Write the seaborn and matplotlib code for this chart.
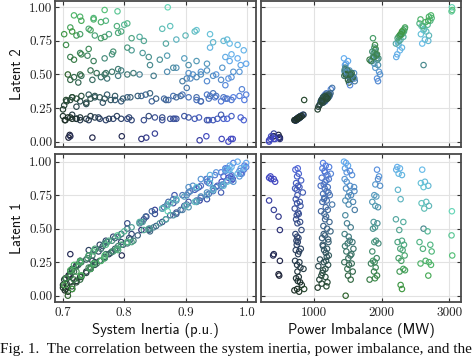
import numpy as np
import pandas as pd
import matplotlib
matplotlib.use("Agg")
import matplotlib.pyplot as plt
import seaborn as sns

# ---- data: one entry per sample (grouped by power-imbalance level) ----
inertia = [
    # ~400 MW
    0.709, 0.711, 0.712, 0.748, 0.796, 0.828, 0.836, 0.850, 0.923, 0.934, 0.959, 0.970, 0.974, 0.977,
    # ~750 MW
    0.968, 0.995, 0.990, 0.962, 0.975, 0.938, 0.952, 0.922, 0.945, 0.915, 0.958, 0.882, 0.935, 0.905,
    0.880, 0.898, 0.862, 0.885, 0.850, 0.875, 0.832, 0.862, 0.805, 0.840, 0.812, 0.782, 0.808, 0.770,
    0.795, 0.760, 0.788, 0.742, 0.758, 0.775, 0.728, 0.752, 0.722, 0.745, 0.715, 0.738, 0.728, 0.704,
    0.722, 0.712, 0.700, 0.715, 0.703, 0.708, 0.705,
    # ~1150 MW
    0.978, 0.996, 0.999, 0.965, 0.988, 0.958, 0.992, 0.948, 0.975, 0.940, 0.968, 0.935, 0.962, 0.925,
    0.950, 0.918, 0.945, 0.905, 0.938, 0.895, 0.925, 0.880, 0.918, 0.872, 0.902, 0.865, 0.892, 0.845,
    0.885, 0.835, 0.868, 0.828, 0.852, 0.805, 0.842, 0.795, 0.822, 0.785, 0.810, 0.772, 0.798, 0.765,
    0.785, 0.752, 0.778, 0.742, 0.768, 0.738, 0.760, 0.728, 0.752, 0.722, 0.745, 0.715, 0.738, 0.712,
    0.730, 0.702, 0.722, 0.706, 0.715, 0.700,
    # ~1500 MW
    0.985, 0.999, 0.972, 0.990, 0.950, 0.975, 0.925, 0.958, 0.905, 0.945, 0.935, 0.902, 0.925, 0.885,
    0.918, 0.870, 0.895, 0.825, 0.848, 0.795, 0.815, 0.772, 0.805, 0.790, 0.762, 0.780, 0.748, 0.768,
    0.730, 0.755, 0.725, 0.745, 0.718, 0.708, 0.965, 0.978, 0.908, 0.880, 0.790, 0.770, 0.712, 0.728,
    # ~1900 MW
    0.970, 0.988, 0.935, 0.960, 0.912, 0.935, 0.898, 0.918, 0.870, 0.905, 0.830, 0.858, 0.812, 0.840,
    0.780, 0.805, 0.768, 0.782, 0.740, 0.762, 0.728, 0.750, 0.742, 0.712, 0.730, 0.705, 0.718,
    # ~2270 MW
    0.975, 0.995, 0.965, 0.985, 0.940, 0.945, 0.885, 0.868, 0.825, 0.832, 0.775, 0.812, 0.795, 0.752,
    0.790, 0.742, 0.768, 0.728, 0.745, 0.712, 0.722, 0.715, 0.702,
    # ~2650 MW
    0.972, 0.968, 0.940, 0.962, 0.918, 0.915, 0.875, 0.900, 0.862, 0.842, 0.800, 0.805, 0.770, 0.788,
    0.750, 0.762, 0.728, 0.750, 0.718, 0.730,
    # ~3040 MW
    0.871, 0.768, 0.789,
]

power = [
    480, 470, 400, 490, 390, 490, 470, 400, 330, 360, 420, 330, 350, 400,
    755, 720, 770, 745, 805, 730, 760, 780, 715, 740, 830, 750, 725, 785,
    745, 795, 710, 760, 770, 740, 730, 790, 750, 810, 720, 745, 765, 735,
    755, 740, 800, 725, 775, 760, 715, 780, 745, 795, 840, 750, 770, 730,
    755, 790, 815, 745, 705, 775, 850,
    1130, 1170, 1220, 1120, 1150, 1160, 1245, 1195, 1110, 1215, 1180, 1160, 1140, 1095,
    1200, 1155, 1180, 1210, 1130, 1230, 1150, 1145, 1185, 1120, 1265, 1170, 1200, 1100,
    1150, 1175, 1160, 1225, 1135, 1190, 1240, 1140, 1160, 1115, 1205, 1210, 1125, 1130,
    1190, 1145, 1170, 1215, 1185, 1085, 1175, 1140, 1205, 1060, 1165, 1130, 1120, 1105,
    1165, 1075, 1195, 1110, 1180, 1050,
    1440, 1470, 1500, 1455, 1480, 1560, 1450, 1530, 1590, 1470, 1520, 1545, 1500, 1460,
    1575, 1510, 1600, 1485, 1540, 1450, 1525, 1565, 1495, 1455, 1580, 1475, 1535, 1505,
    1445, 1555, 1515, 1490, 1570, 1465, 1530, 1480, 1595, 1460, 1510, 1550, 1500, 1540,
    1930, 1960, 1945, 1905, 1975, 1890, 1920, 1860, 1905, 1945, 1880, 1935, 1900, 1870,
    1915, 1890, 1950, 1860, 1925, 1870, 1895, 1840, 1910, 1885, 1930, 1900, 1820,
    2230, 2270, 2215, 2250, 2300, 2240, 2280, 2210, 2320, 2260, 2300, 2235, 2330, 2275,
    2310, 2340, 2250, 2290, 2320, 2345, 2265, 2300, 2280,
    2600, 2640, 2580, 2690, 2620, 2660, 2590, 2700, 2630, 2620, 2680, 2560, 2720, 2610,
    2740, 2650, 2700, 2575, 2730, 2690,
    3040, 3045, 3035,
]

latent1 = [
    0.15, 0.16, 0.31, 0.26, 0.30, 0.49, 0.59, 0.64, 0.71, 0.87, 0.85, 0.88, 0.89, 0.87,
    0.95, 0.94, 0.91, 0.89, 0.86, 0.84, 0.82, 0.81, 0.80, 0.79, 0.77, 0.75, 0.72, 0.70,
    0.69, 0.67, 0.65, 0.62, 0.61, 0.60, 0.57, 0.55, 0.54, 0.49, 0.46, 0.44, 0.43, 0.41,
    0.40, 0.38, 0.35, 0.34, 0.33, 0.31, 0.26, 0.25, 0.23, 0.21, 0.20, 0.18, 0.14, 0.13,
    0.11, 0.10, 0.08, 0.05, 0.04, 0.03, 0.05,
    0.99, 0.97, 0.96, 0.95, 0.93, 0.92, 0.91, 0.90, 0.88, 0.87, 0.86, 0.85, 0.83, 0.82,
    0.81, 0.80, 0.78, 0.77, 0.76, 0.75, 0.73, 0.72, 0.71, 0.70, 0.68, 0.66, 0.64, 0.63,
    0.61, 0.59, 0.57, 0.55, 0.52, 0.50, 0.48, 0.46, 0.45, 0.43, 0.42, 0.40, 0.38, 0.37,
    0.35, 0.34, 0.32, 0.30, 0.29, 0.27, 0.26, 0.25, 0.23, 0.22, 0.20, 0.19, 0.17, 0.15,
    0.14, 0.12, 0.10, 0.09, 0.07, 0.06,
    1.00, 0.99, 0.97, 0.95, 0.92, 0.90, 0.87, 0.82, 0.81, 0.80, 0.77, 0.75, 0.74, 0.71,
    0.70, 0.68, 0.64, 0.54, 0.51, 0.46, 0.41, 0.40, 0.39, 0.37, 0.35, 0.33, 0.30, 0.28,
    0.25, 0.24, 0.23, 0.20, 0.18, 0.00, 0.93, 0.85, 0.78, 0.60, 0.44, 0.31, 0.15, 0.12,
    0.94, 0.89, 0.87, 0.83, 0.82, 0.75, 0.74, 0.70, 0.67, 0.66, 0.55, 0.54, 0.51, 0.50,
    0.41, 0.40, 0.39, 0.33, 0.28, 0.26, 0.25, 0.24, 0.21, 0.18, 0.15, 0.13, 0.12,
    0.96, 0.95, 0.94, 0.91, 0.90, 0.79, 0.72, 0.57, 0.55, 0.49, 0.41, 0.40, 0.38, 0.35,
    0.34, 0.30, 0.28, 0.26, 0.20, 0.19, 0.18, 0.05, 0.08,
    0.94, 0.85, 0.84, 0.82, 0.81, 0.70, 0.69, 0.67, 0.65, 0.50, 0.48, 0.40, 0.38, 0.35,
    0.33, 0.26, 0.25, 0.24, 0.23, 0.15,
    0.63, 0.30, 0.45,
]

latent2 = [
    0.03, 0.05, 0.04, 0.03, 0.04, 0.02, 0.03, 0.06, 0.01, 0.04, 0.02, 0.00, 0.02, 0.02,
    0.17, 0.16, 0.18, 0.17, 0.19, 0.16, 0.17, 0.18, 0.16, 0.17, 0.20, 0.17, 0.16, 0.18,
    0.17, 0.19, 0.16, 0.17, 0.18, 0.17, 0.16, 0.18, 0.17, 0.19, 0.16, 0.17, 0.18, 0.16,
    0.17, 0.17, 0.19, 0.16, 0.18, 0.17, 0.16, 0.18, 0.17, 0.19, 0.20, 0.17, 0.18, 0.16,
    0.17, 0.18, 0.19, 0.17, 0.16, 0.18, 0.31,
    0.33, 0.31, 0.35, 0.32, 0.34, 0.30, 0.39, 0.33, 0.31, 0.34, 0.32, 0.35, 0.33, 0.30,
    0.34, 0.31, 0.36, 0.33, 0.32, 0.35, 0.30, 0.34, 0.33, 0.31, 0.40, 0.32, 0.34, 0.30,
    0.33, 0.35, 0.31, 0.34, 0.32, 0.33, 0.36, 0.30, 0.34, 0.31, 0.33, 0.35, 0.32, 0.29,
    0.34, 0.33, 0.31, 0.35, 0.32, 0.28, 0.33, 0.30, 0.34, 0.26, 0.32, 0.33, 0.29, 0.31,
    0.34, 0.27, 0.32, 0.30, 0.33, 0.24,
    0.62, 0.58, 0.60, 0.57, 0.50, 0.48, 0.52, 0.46, 0.51, 0.49, 0.53, 0.47, 0.50, 0.55,
    0.48, 0.52, 0.45, 0.50, 0.49, 0.53, 0.51, 0.47, 0.50, 0.54, 0.48, 0.52, 0.46, 0.50,
    0.49, 0.51, 0.44, 0.53, 0.48, 0.50, 0.42, 0.52, 0.47, 0.55, 0.49, 0.51, 0.46, 0.50,
    0.47, 0.52, 0.45, 0.55, 0.50, 0.58, 0.62, 0.60, 0.64, 0.57, 0.66, 0.61, 0.68, 0.63,
    0.65, 0.70, 0.62, 0.67, 0.64, 0.77, 0.66, 0.60, 0.69, 0.63, 0.65, 0.72, 0.61,
    0.65, 0.68, 0.63, 0.72, 0.70, 0.74, 0.76, 0.73, 0.78, 0.75, 0.80, 0.77, 0.82, 0.79,
    0.81, 0.84, 0.78, 0.80, 0.83, 0.85, 0.79, 0.82, 0.80,
    0.73, 0.76, 0.80, 0.75, 0.83, 0.82, 0.86, 0.79, 0.84, 0.57, 0.87, 0.88, 0.90, 0.86,
    0.92, 0.89, 0.93, 0.91, 0.94, 0.90,
    1.00, 0.98, 0.97,
]

df = pd.DataFrame({"inertia": inertia, "power": power,
                   "latent1": latent1, "latent2": latent2})

# 2-D colour map: blue channel follows latent 1, green follows latent 2
l1 = df["latent1"].to_numpy()
l2 = df["latent2"].to_numpy()
colors = np.clip(np.column_stack([0.08 + 0.20 * l1 + 0.20 * l2,
                                  0.08 + 0.22 * l1 + 0.62 * l2,
                                  0.10 + 0.75 * l1 + 0.15 * l2]), 0, 1)

sns.set_style("ticks")
plt.rcParams["font.family"] = ["cmr10", "DejaVu Serif"]

W, H = 474, 359
fig = plt.figure(figsize=(W / 100, H / 100), dpi=100)


def ax_at(x0, y0, x1, y1):
    return fig.add_axes([x0 / W, 1 - y1 / H, (x1 - x0) / W, (y1 - y0) / H])


ax_tl = ax_at(55, 1, 256, 147)
ax_tr = ax_at(261, 1, 461, 147)
ax_bl = ax_at(55, 154, 256, 302)
ax_br = ax_at(261, 154, 461, 302)

panels = [(ax_tl, "inertia", "latent2"), (ax_tr, "power", "latent2"),
          (ax_bl, "inertia", "latent1"), (ax_br, "power", "latent1")]

for ax, xv, yv in panels:
    sns.scatterplot(data=df, x=xv, y=yv, ax=ax, marker="o", s=15,
                    facecolor="none", edgecolor=colors, linewidth=0.85,
                    legend=False, zorder=3)
    ax.grid(True, color="#e2e2e2", linewidth=0.8, zorder=0)
    ax.set_axisbelow(True)
    ax.tick_params(direction="in", top=True, right=True, length=2.6,
                   width=0.8, color="#333333", labelsize=9.5,
                   labelcolor="#222222", pad=2)
    for sp in ax.spines.values():
        sp.set_color("#4a4a4a")
        sp.set_linewidth(1.3)
    ax.set_xlabel("")
    ax.set_ylabel("")
    ax.set_yticks([0.0, 0.25, 0.5, 0.75, 1.0])

for ax in (ax_tl, ax_bl):
    ax.set_xlim(0.687, 1.015)
    ax.set_xticks([0.7, 0.8, 0.9, 1.0])
for ax in (ax_tr, ax_br):
    ax.set_xlim(210, 3175)
    ax.set_xticks([1000, 2000, 3000])
    ax.tick_params(labelleft=False)
for ax in (ax_tl, ax_tr):
    ax.set_ylim(-0.04, 1.047)
    ax.tick_params(labelbottom=False)
for ax in (ax_bl, ax_br):
    ax.set_ylim(-0.047, 1.057)
    ax.tick_params(axis="x", pad=3.5)

lab = dict(fontfamily="cmss10", fontsize=10.5, color="#111111")
ax_tl.set_ylabel("Latent 2", labelpad=3.5, **lab)
ax_bl.set_ylabel("Latent 1", labelpad=3.5, **lab)
ax_bl.set_xlabel("System Inertia (p.u.)", labelpad=3, **lab)
ax_br.set_xlabel("Power Imbalance (MW)", labelpad=3, **lab)

fig.text(0.0, 0.018,
         "Fig. 1.  The correlation between the system inertia, power imbalance, and the",
         fontfamily="Liberation Serif", fontsize=11, color="#111111",
         ha="left", va="baseline")

fig.savefig("out.png", dpi=100)
